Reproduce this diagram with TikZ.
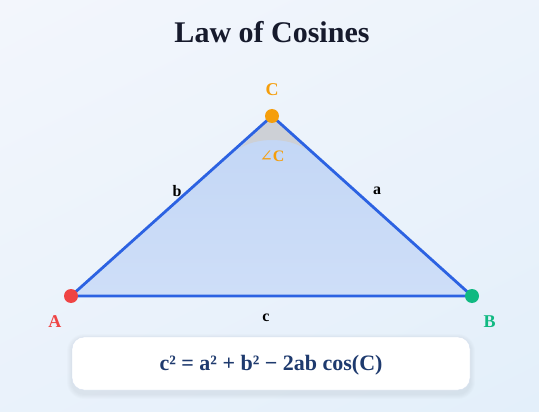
\documentclass[tikz,border=0pt]{standalone}
\usepackage{fontspec}
\setmainfont{Liberation Serif}
\newfontfamily\anglefont{DejaVu Serif}
\usetikzlibrary{positioning,shadings}
\definecolor{bgtop}{HTML}{F3F6FC}
\definecolor{bgbottom}{HTML}{E3EFFA}
\definecolor{edgeblue}{HTML}{2C62E2}
\definecolor{filltop}{HTML}{C2D6F5}
\definecolor{fillbottom}{HTML}{CEDEF8}
\definecolor{anglegray}{HTML}{CDD0D6}
\definecolor{pointred}{HTML}{EF4444}
\definecolor{pointgreen}{HTML}{10B981}
\definecolor{pointorange}{HTML}{F59E0B}
\definecolor{titleink}{HTML}{161A2C}
\definecolor{formulaink}{HTML}{1E3A6E}
\definecolor{boxline}{HTML}{D6E0F0}
\tikzset{
	vertexdot/.style={circle,inner sep=0pt,minimum size=14pt},
	vertexlabel/.style={font=\fontsize{18}{21}\selectfont\bfseries},
	sidelabel/.style={font=\fontsize{16}{19}\selectfont\bfseries,text=black}
}
\begin{document}
\begin{tikzpicture}[x=1pt,y=-1pt]
	\shade[upper left=bgtop,upper right=bgtop!60!bgbottom,lower left=bgtop!40!bgbottom,lower right=bgbottom] (0,0) rectangle (539,412);
	\useasboundingbox (0,0) rectangle (539,412);
	\node[font=\fontsize{30}{34}\selectfont\bfseries,text=titleink] (title) at (272,32) {Law of Cosines};
	% triangle
	\coordinate (a) at (71,296);
	\coordinate (b) at (472,296);
	\coordinate (c) at (272,116);
	\shade[top color=filltop,bottom color=fillbottom] (a) -- (b) -- (c) -- cycle;
	\fill[anglegray] (c) -- (239,149) .. controls (255,137) and (289,137) .. (305,149) -- cycle;
	\draw[edgeblue,line width=2.8pt,line join=round] (a) -- (b) -- (c) -- cycle;
	\node[vertexdot,fill=pointred] (A) at (a) {};
	\node[vertexdot,fill=pointgreen] (B) at (b) {};
	\node[vertexdot,fill=pointorange] (C) at (c) {};
	\node[vertexlabel,text=pointred,below left=11pt and 1pt of A] (labelA) {A};
	\node[vertexlabel,text=pointgreen,below right=11pt and 3pt of B] (labelB) {B};
	\node[vertexlabel,text=pointorange,above=10pt of C] (labelC) {C};
	\node[font=\fontsize{16}{19}\selectfont\bfseries,text=pointorange] (angleC) at (272,156) {{\anglefont\mdseries ∠}C};
	\node[sidelabel] (sidea) at (377,191) {a};
	\node[sidelabel] (sideb) at (177,191) {b};
	\node[sidelabel] (sidec) at (266,318) {c};
	% formula
	\foreach \s in {1,...,5}
		\fill[black,opacity=0.012,rounded corners=12pt+\s pt] (72-\s,339-\s) rectangle (470+\s,394+\s);
	\draw[boxline,fill=white,rounded corners=12pt] (72,337) rectangle (470,390);
	\node[font=\fontsize{22}{26}\selectfont\bfseries,text=formulaink] (formula) at (271,365) {c² = a² + b² − 2ab cos(C)};
\end{tikzpicture}
\end{document}
